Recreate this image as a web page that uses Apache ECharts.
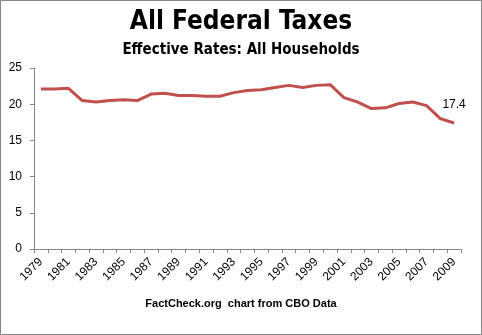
<!DOCTYPE html>
<html><head><meta charset="utf-8">
<script src="https://cdn.jsdelivr.net/npm/echarts@6/dist/echarts.min.js"></script>
<style>html,body{margin:0;padding:0;background:#fff}#c{width:482px;height:335px}</style>
</head><body><div id="c"></div>
<script>
const years = ['1979','1980','1981','1982','1983','1984','1985','1986','1987','1988','1989','1990','1991','1992','1993','1994','1995','1996','1997','1998','1999','2000','2001','2002','2003','2004','2005','2006','2007','2008','2009'];
const rates = [22.1,22.1,22.2,20.5,20.3,20.5,20.6,20.5,21.4,21.5,21.2,21.2,21.1,21.1,21.6,21.9,22.0,22.3,22.6,22.3,22.6,22.7,20.9,20.3,19.4,19.5,20.1,20.3,19.8,18.0,17.4];
const yTicks = [0,5,10,15,20,25];

const chart = echarts.init(document.getElementById('c'));
chart.setOption({
  animation:false,
  backgroundColor:'#fff',
  graphic:[{type:'rect',shape:{x:0.5,y:0.5,width:481,height:334},style:{fill:'none',stroke:'#868686',lineWidth:1}}],
  title:[
    {text:'All Federal Taxes',left:'center',top:4,textStyle:{fontFamily:'DejaVu Sans Condensed',fontWeight:'bold',fontSize:26,color:'#000'}},
    {text:'Effective Rates: All Households',left:'center',top:38,textStyle:{fontFamily:'DejaVu Sans Condensed',fontWeight:'bold',fontSize:15,color:'#000'}},
    {text:'FactCheck.org  chart from CBO Data',left:'center',top:293,textStyle:{fontFamily:'Liberation Sans',fontWeight:'bold',fontSize:11,color:'#000'}}
  ],
  grid:{left:34,right:21,top:68,bottom:86},
  xAxis:{
    type:'category',data:years,boundaryGap:true,
    axisLine:{lineStyle:{color:'#868686'}},
    axisTick:{show:true,interval:0,length:4,lineStyle:{color:'#868686'}},
    axisLabel:{interval:1,rotate:45,fontFamily:'Liberation Sans',fontSize:12,color:'#000',margin:11}
  },
  yAxis:{
    type:'value',min:0,max:25,interval:5,
    axisLine:{show:true,lineStyle:{color:'#868686'}},
    axisTick:{show:true,length:4,lineStyle:{color:'#868686'}},
    splitLine:{show:false},
    axisLabel:{fontFamily:'Liberation Sans',fontSize:12,color:'#000',margin:12,
      formatter:v=>yTicks.includes(v)?String(v):''}
  },
  series:[{
    type:'line',
    data:rates.map((v,i)=>i===rates.length-1?{value:v,label:{show:true,position:'top',distance:12,formatter:'{c}'}}:v),
    symbol:'circle',symbolSize:0,showSymbol:true,
    label:{show:false,fontFamily:'Liberation Sans',fontSize:12,color:'#000'},
    lineStyle:{color:'#C0504D',width:3},
    itemStyle:{color:'#C0504D'}
  }]
});
</script></body></html>
